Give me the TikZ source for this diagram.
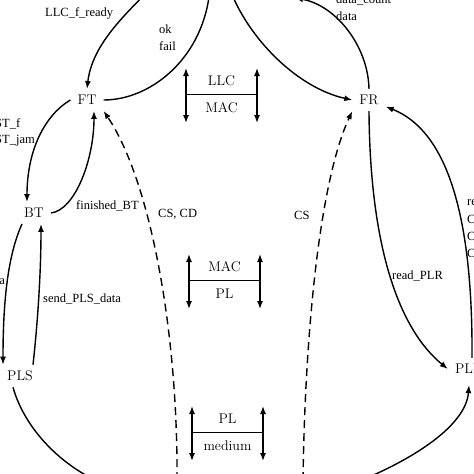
\documentclass[tikz,border=0pt]{standalone}
\usepackage{fontspec}
\newfontfamily\labelfont{Liberation Serif}
\usetikzlibrary{arrows.meta}
\tikzset{
  state/.style={inner xsep=7pt,inner ysep=6pt,font=\fontsize{14}{16}\selectfont},
  layer/.style={inner sep=0pt,font=\fontsize{14}{16}\selectfont},
  msg/.style={inner sep=0pt,font=\labelfont\fontsize{12.5}{15}\selectfont},
  trans/.style={line width=1.4pt,-{Latex[length=8pt,width=6pt]}},
  sense/.style={trans,dash pattern=on 8pt off 5pt},
  updown/.style={line width=1.4pt,{Latex[length=8pt,width=6pt]}-{Latex[length=8pt,width=6pt]}},
}
\begin{document}
\begin{tikzpicture}[x=1pt,y=-1pt]
        \useasboundingbox (0,0) rectangle (474,474);
        \clip (0,0) rectangle (474,474);
        \node[state] (FT) at (87,100) {FT};
        \node[state] (FR) at (369,100) {FR};
        \node[state] (BT) at (34,213) {BT};
        \node[state] (PLS) at (20,376) {PLS};
        \node[state] (PLR) at (469,369) {PLR};
        \coordinate (llcin) at (147,-8);
        \coordinate (llcout) at (210,-10);
        \coordinate (frin) at (231,-8);
        \coordinate (frout) at (295,-2);
        \coordinate (plsout) at (104,484);
        \coordinate (plrin) at (362,480);
        \coordinate (csleft) at (177,480);
        \coordinate (csright) at (303,480);
        \draw[trans] (llcin) .. controls (125,15) and (92,45) .. (FT.north);
        \draw[trans] (FT.east) .. controls (150,100) and (200,60) .. (llcout);
        \draw[trans] (frin) .. controls (250,40) and (298,88) .. (FR.west);
        \draw[trans] (FR.north) .. controls (368,45) and (335,5) .. (frout);
        \draw[trans] (FT.west) .. controls (45,115) and (27,150) .. ([xshift=-7pt]BT.north);
        \draw[trans] (BT.east) .. controls (75,210) and (94,160) .. ([xshift=7pt]FT.south);
        \draw[trans] ([xshift=-12pt]BT.south) .. controls (8,255) and (3,300) .. ([xshift=-17pt]PLS.north);
        \draw[trans] ([xshift=13pt]PLS.north) .. controls (38,320) and (41,270) .. ([xshift=7pt]BT.south);
        \draw[trans] ([xshift=-7pt]PLS.south) .. controls (25,430) and (62,465) .. (plsout);
        \draw[trans] (plrin) .. controls (415,458) and (466,425) .. ([yshift=-5pt]PLR.south);
        \draw[trans] (FR.south) .. controls (370,250) and (400,330) .. (PLR.west);
        \draw[trans] ([xshift=3pt]PLR.north) .. controls (473,210) and (445,130) .. (FR);
        \draw[sense] (csleft) .. controls (178,330) and (150,180) .. (FT.south east);
        \draw[sense] (csright) .. controls (305,330) and (320,180) .. (FR.south west);
        \node[msg,anchor=base west] (lfready) at (45,16) {LLC\_f\_ready};
        \node[msg,anchor=base west] (ok) at (159,33) {ok};
        \node[msg,anchor=base west] (fail) at (159,50) {fail};
        \node[msg,anchor=base west] (dcount) at (336,3) {data\_count};
        \node[msg,anchor=base west] (data) at (336,20) {data};
        \node[msg,anchor=base west] (stf) at (-5,127) {ST\_f};
        \node[msg,anchor=base west] (stjam) at (-5,143) {ST\_jam};
        \node[msg,anchor=base west] (finbt) at (76,209) {finished\_BT};
        \node[msg,anchor=base west] (cscd) at (158,217) {CS, CD};
        \node[msg,anchor=base west] (cs) at (294,219) {CS};
        \node[msg,anchor=base east] (pdata) at (5,284) {data};
        \node[msg,anchor=base west] (sendpls) at (43,302) {send\_PLS\_data};
        \node[msg,anchor=base west] (readplr) at (392,279) {read\_PLR};
        \node[msg,anchor=base west] (recplr) at (467,205) {rec\_PLR};
        \node[msg,anchor=base west] (rcs) at (467,223) {CS};
        \node[msg,anchor=base west] (rcd) at (467,240) {CD};
        \node[msg,anchor=base west] (rce) at (467,257) {CE};
        \foreach \n/\x/\y/\up/\down in {llc/186/94/LLC/MAC, mac/189/280/MAC/PL, pl/192/432/PL/medium}{
          \begin{scope}[shift={(\x,\y)}]
            \coordinate (\n-lt) at (0,-26);
            \coordinate (\n-lb) at (0,29);
            \coordinate (\n-rt) at (71,-26);
            \coordinate (\n-rb) at (71,29);
            \coordinate (\n-l) at (0,0);
            \coordinate (\n-r) at (71,0);
            \node[layer] (\n-up) at (35.5,-13) {\up};
            \node[layer] (\n-down) at (35.5,14) {\down};
            \draw[updown] (\n-lt) -- (\n-lb);
            \draw[updown] (\n-rt) -- (\n-rb);
            \draw[line width=1pt] (\n-l) -- (\n-r);
          \end{scope}
        }
      \end{tikzpicture}
\end{document}
